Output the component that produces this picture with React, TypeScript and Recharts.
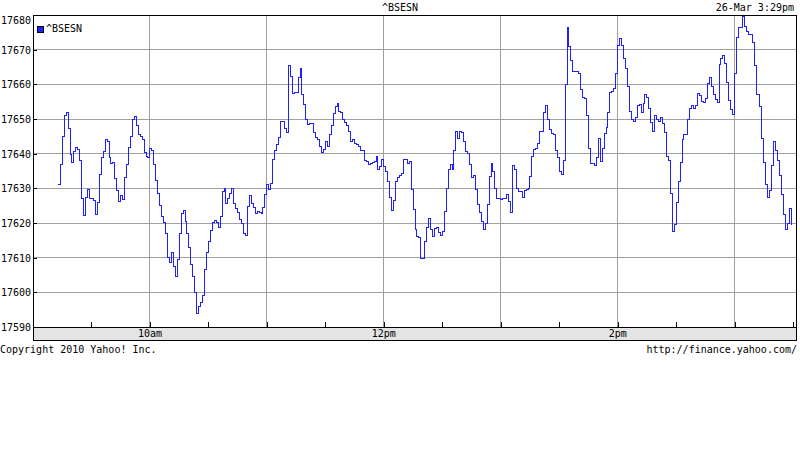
import React from "react";
import { LineChart, Line, XAxis, YAxis, CartesianGrid, ReferenceLine } from "recharts";

const symbol = "^BSESN";
const stamp = "26-Mar 3:29pm";
const copyright = "Copyright 2010 Yahoo! Inc.";
const site = "http://finance.yahoo.com/";

// minutes after 9:00am of the first quote
const firstMinute = 13;

// one value per minute, split by hour of the session
const prices09 = [
  17631.2, 17637.0, 17645.0, 17651.0, 17652.0, 17647.3, 17639.7, 17637.5, 17640.5, 17641.8,
  17641.3, 17638.0, 17627.0, 17622.2, 17627.5, 17629.6, 17627.2, 17627.0, 17626.5, 17622.4,
  17625.8, 17634.0, 17639.0, 17640.7, 17644.0, 17643.5, 17639.0, 17637.2, 17637.5, 17632.8,
  17629.3, 17626.3, 17628.0, 17626.7, 17633.0, 17637.0, 17641.7, 17645.0, 17650.0, 17650.8,
  17648.0, 17645.5, 17645.0, 17644.0, 17640.4, 17639.2, 17639.0,
];
const prices10 = [
  17641.6, 17640.8, 17637.0, 17632.4, 17628.5, 17625.0, 17622.0, 17620.1, 17617.0, 17610.0,
  17608.5, 17611.6, 17607.5, 17604.6, 17609.5, 17617.0, 17622.6, 17623.5, 17620.5, 17617.0,
  17613.0, 17608.0, 17604.5, 17600.0, 17594.0, 17595.8, 17597.0, 17599.0, 17606.5, 17611.5,
  17614.8, 17617.7, 17620.2, 17620.6, 17620.2, 17618.8, 17622.0, 17629.0, 17630.0, 17625.5,
  17627.0, 17628.5, 17630.0, 17625.5, 17624.1, 17623.0, 17621.0, 17619.8, 17617.0, 17616.5,
  17624.9, 17628.0, 17625.6, 17624.4, 17622.8, 17623.4, 17623.1, 17622.6, 17624.5, 17628.2,
];
const prices11 = [
  17631.0, 17629.6, 17631.3, 17638.4, 17640.8, 17642.7, 17644.8, 17649.3, 17649.2, 17647.2,
  17646.0, 17665.5, 17662.4, 17657.4, 17657.7, 17657.6, 17662.0, 17664.5, 17657.0, 17654.2,
  17650.0, 17648.5, 17648.6, 17648.8, 17646.0, 17644.6, 17644.0, 17642.2, 17640.3, 17641.2,
  17643.4, 17642.0, 17645.4, 17648.0, 17651.5, 17653.5, 17654.6, 17652.3, 17652.0, 17649.9,
  17649.0, 17648.2, 17646.5, 17643.5, 17644.2, 17643.0, 17642.6, 17642.2, 17640.8, 17641.0,
  17638.0, 17637.7, 17637.0, 17637.3, 17637.5, 17637.6, 17639.2, 17635.4, 17636.3, 17638.3,
];
const prices12 = [
  17636.3, 17634.9, 17632.0, 17627.5, 17623.6, 17626.5, 17632.0, 17633.0, 17633.8, 17634.4,
  17638.3, 17638.3, 17637.3, 17637.8, 17629.6, 17623.9, 17618.0, 17616.2, 17615.8, 17609.9,
  17609.9, 17614.7, 17618.6, 17621.2, 17618.1, 17616.0, 17618.5, 17618.6, 17617.2, 17616.3,
  17617.6, 17623.4, 17629.9, 17635.4, 17637.0, 17635.5, 17641.0, 17646.5, 17644.5, 17646.5,
  17646.2, 17643.5, 17640.7, 17640.0, 17636.8, 17633.0, 17633.7, 17629.6, 17625.3, 17623.1,
  17620.5, 17618.0, 17620.0, 17625.3, 17633.5, 17637.1, 17635.0, 17630.0, 17627.2, 17627.0,
];
const prices13 = [
  17626.9, 17627.0, 17627.2, 17628.3, 17626.3, 17623.1, 17636.5, 17635.5, 17630.0, 17629.1,
  17629.0, 17627.5, 17629.5, 17629.6, 17630.0, 17633.5, 17639.2, 17641.2, 17641.6, 17642.9,
  17646.4, 17646.5, 17652.0, 17654.0, 17650.0, 17647.0, 17645.8, 17645.6, 17641.0, 17639.0,
  17635.0, 17633.9, 17638.0, 17660.0, 17676.5, 17671.0, 17667.0, 17663.8, 17663.8, 17663.6,
  17663.0, 17658.5, 17656.1, 17655.8, 17651.0, 17641.5, 17637.1, 17637.3, 17636.7, 17638.8,
  17644.5, 17637.8, 17641.5, 17645.8, 17647.5, 17652.0, 17657.7, 17658.0, 17658.8, 17663.0,
];
const prices14 = [
  17671.2, 17673.3, 17671.2, 17667.5, 17664.5, 17659.4, 17652.2, 17650.0, 17649.4, 17650.5,
  17654.0, 17654.3, 17652.0, 17654.5, 17657.0, 17656.3, 17653.0, 17649.0, 17646.5, 17651.0,
  17649.8, 17649.3, 17650.4, 17648.7, 17646.0, 17639.3, 17637.9, 17628.5, 17617.5, 17619.5,
  17625.8, 17632.0, 17637.4, 17644.0, 17645.6, 17645.6, 17650.0, 17653.0, 17653.8, 17653.0,
  17654.0, 17657.4, 17656.7, 17655.0, 17654.8, 17656.0, 17660.2, 17662.0, 17659.3, 17657.0,
  17655.6, 17654.8, 17665.8, 17667.5, 17668.3, 17666.0, 17660.6, 17655.3, 17652.8, 17651.3,
];
const prices15 = [
  17663.0, 17673.5, 17676.3, 17676.5, 17679.5, 17676.7, 17675.3, 17674.5, 17674.5, 17672.0,
  17665.5, 17657.0, 17657.0, 17653.5, 17644.5, 17637.5, 17631.0, 17627.5, 17629.5, 17636.5,
  17643.6, 17641.0, 17638.0, 17633.8, 17628.3, 17622.5, 17618.2, 17620.0, 17624.2, 17619.5,
];

const priceTicks = [17590, 17600, 17610, 17620, 17630, 17640, 17650, 17660, 17670, 17680];
const hourLines = [60, 120, 180, 240, 300, 360];
const halfHours = [30, 60, 90, 120, 150, 180, 210, 240, 270, 300, 330, 360, 390];
const timeLabels: Record<number, string> = { 60: "10am", 180: "12pm", 300: "2pm" };
const timeDomain = [0, 392];

const data = [...prices09, ...prices10, ...prices11, ...prices12, ...prices13, ...prices14, ...prices15].map(
  (price, i) => ({ t: firstMinute + i, price })
);

const MONO = "'DejaVu Sans Mono', monospace";
const W = 800;
const H = 360;
const margin = { top: 15, right: 3, bottom: 0, left: 0 };
const yAxisW = 33;
const xAxisH = 33;
const plotLeft = margin.left + yAxisW;
const plotRight = W - margin.right;
const plotTop = margin.top;
const plotBottom = H - margin.bottom - xAxisH;
const bandBottom = plotBottom + 13;

const LeftTick = (props: any) => {
  const { x, y, payload } = props;
  const top = payload.value === priceTicks[priceTicks.length - 1];
  return (
    <g>
      <line x1={x} x2={x + 4} y1={Math.round(y) + 0.5} y2={Math.round(y) + 0.5} stroke="#000" />
      <text x={x - 2} y={y + (top ? 9 : 4)} textAnchor="end" fontSize={10} fontFamily={MONO} fill="#000">
        {payload.value}
      </text>
    </g>
  );
};

const RightTick = (props: any) => {
  const { x, y } = props;
  return <line x1={x - 4} x2={x} y1={Math.round(y) + 0.5} y2={Math.round(y) + 0.5} stroke="#000" />;
};

const BottomTick = (props: any) => {
  const { x, y, payload } = props;
  const label = timeLabels[payload.value];
  return (
    <g>
      <line x1={Math.round(x) + 0.5} x2={Math.round(x) + 0.5} y1={y} y2={y - 5} stroke="#000" />
      {label && (
        <text x={x} y={y + 10} textAnchor="middle" fontSize={10} fontFamily={MONO} fill="#000">
          {label}
        </text>
      )}
    </g>
  );
};

const TopTick = (props: any) => {
  const { x, y } = props;
  return <line x1={Math.round(x) + 0.5} x2={Math.round(x) + 0.5} y1={y} y2={y + 5} stroke="#000" />;
};

export default function App() {
  return (
    <div style={{ position: "absolute", left: 0, top: 0, width: 800, height: 475, background: "#fff" }}>
      <style>{`.recharts-line-curve { shape-rendering: crispEdges; }`}</style>
      <svg width={800} height={475} style={{ position: "absolute", left: 0, top: 0 }}>
        <rect x={plotLeft} y={plotBottom} width={plotRight - plotLeft} height={bandBottom - plotBottom} fill="#e4e4e4" />
        <g fontFamily={MONO} fontSize={10} fill="#000">
          <text x={400} y={11} textAnchor="middle">{symbol}</text>
          <text x={794} y={11} textAnchor="end">{stamp}</text>
          <text x={0} y={353}>{copyright}</text>
          <text x={797} y={353} textAnchor="end">{site}</text>
        </g>
      </svg>
      <div style={{ position: "absolute", left: 0, top: 0 }}>
        <LineChart width={W} height={H} data={data} margin={margin}>
          <CartesianGrid vertical={false} stroke="#a0a0a0" shapeRendering="crispEdges" />
          {hourLines.map((m) => (
            <ReferenceLine key={m} x={m} stroke="#a0a0a0" shapeRendering="crispEdges" />
          ))}
          <XAxis
            dataKey="t"
            type="number"
            domain={timeDomain}
            ticks={halfHours}
            interval={0}
            height={xAxisH}
            axisLine={false}
            tickLine={false}
            tickSize={0}
            tickMargin={0}
            tick={<BottomTick />}
            allowDataOverflow
          />
          <XAxis
            xAxisId="top"
            orientation="top"
            dataKey="t"
            type="number"
            domain={timeDomain}
            ticks={halfHours}
            interval={0}
            height={0}
            axisLine={false}
            tickLine={false}
            tickSize={0}
            tickMargin={0}
            tick={<TopTick />}
            allowDataOverflow
          />
          <YAxis
            type="number"
            domain={[17590, 17680]}
            ticks={priceTicks}
            interval={0}
            width={yAxisW}
            axisLine={false}
            tickLine={false}
            tickSize={0}
            tickMargin={0}
            tick={<LeftTick />}
            allowDataOverflow
          />
          <YAxis
            yAxisId="r"
            orientation="right"
            type="number"
            domain={[17590, 17680]}
            ticks={priceTicks}
            interval={0}
            width={0}
            axisLine={false}
            tickLine={false}
            tickSize={0}
            tickMargin={0}
            tick={<RightTick />}
            allowDataOverflow
          />
          <Line
            dataKey="price"
            name={symbol}
            type="stepAfter"
            stroke="#2020ff"
            strokeWidth={1}
            dot={false}
            activeDot={false}
            isAnimationActive={false}
          />
        </LineChart>
      </div>
      <svg width={800} height={475} style={{ position: "absolute", left: 0, top: 0, pointerEvents: "none" }}>
        <g stroke="#000" fill="none" shapeRendering="crispEdges">
          <rect x={plotLeft + 0.5} y={plotTop + 0.5} width={plotRight - plotLeft - 1} height={bandBottom - plotTop} />
          <line x1={plotLeft} x2={plotRight} y1={plotBottom + 0.5} y2={plotBottom + 0.5} />
        </g>
      </svg>
      <div
        style={{
          position: "absolute",
          left: plotLeft + 4,
          top: 24,
          display: "flex",
          alignItems: "center",
          fontFamily: MONO,
          fontSize: 10,
          lineHeight: "10px",
        }}
      >
        <span style={{ width: 5, height: 5, background: "#2020ff", border: "1px solid #000", marginRight: 2 }} />
        <span>{symbol}</span>
      </div>
    </div>
  );
}
